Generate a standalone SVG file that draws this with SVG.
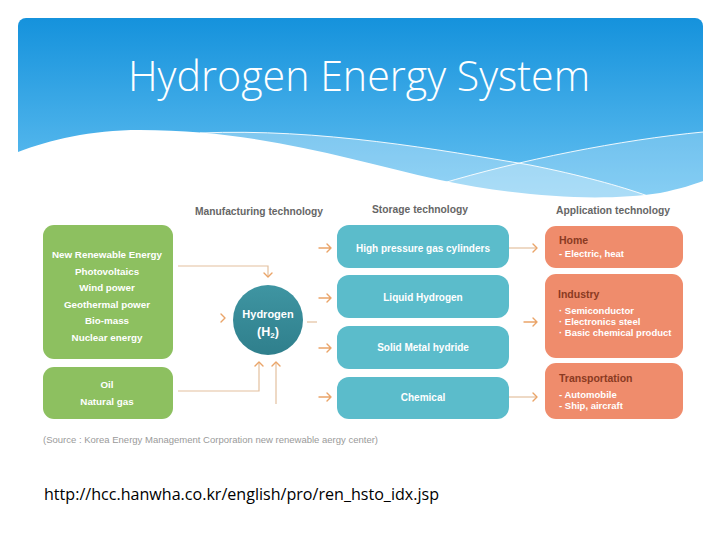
<svg xmlns="http://www.w3.org/2000/svg" width="720" height="540" viewBox="0 0 720 540">
  <defs>
    <linearGradient id="sky" x1="0" y1="0" x2="0" y2="1">
      <stop offset="0" stop-color="#1592dc"/>
      <stop offset="1" stop-color="#6cc5f3"/>
    </linearGradient>
    <linearGradient id="h2" x1="0" y1="0" x2="0" y2="1">
      <stop offset="0" stop-color="#3f95a2"/>
      <stop offset="1" stop-color="#2f7f8c"/>
    </linearGradient>
  </defs>
  <style>
    .hdr { font-family: "Liberation Sans", Arial, sans-serif; font-size: 10px; font-weight: bold; fill: #666666; text-anchor: middle; }
    .wt { font-family: "Liberation Sans", Arial, sans-serif; font-size: 9.8px; font-weight: bold; fill: #ffffff; text-anchor: middle; }
    .st { font-family: "Liberation Sans", Arial, sans-serif; font-size: 10px; font-weight: bold; fill: #ffffff; text-anchor: middle; }
    .apt { font-family: "Liberation Sans", Arial, sans-serif; font-size: 10.5px; font-weight: bold; fill: #8a3a22; }
    .api { font-family: "Liberation Sans", Arial, sans-serif; font-size: 9.5px; font-weight: bold; fill: #ffffff; }
    .green { fill: #8dc060; }
    .teal { fill: #5bbccb; }
    .salmon { fill: #ef8c6c; }
    .line { fill: none; stroke: #e3c09e; stroke-width: 1.2; }
    .arr { fill: none; stroke: #eaa468; stroke-width: 1.4; stroke-linecap: round; stroke-linejoin: round; }
  </style>

  <!-- header banner -->
  <g id="banner">
    <rect x="18" y="18" width="685" height="195" rx="8" fill="url(#sky)"/>
    <path d="M200,133 C320,128 440,150 530,165 C580,175 620,186 648,196 L703,215 L200,215 Z" fill="#ffffff" fill-opacity="0.3"/>
    <path d="M440,184 C520,160 620,140 703,132 L703,215 L440,215 Z" fill="#ffffff" fill-opacity="0.22"/>
    <path d="M200,133 C320,128 440,150 530,165 C580,175 620,186 648,196" fill="none" stroke="#ffffff" stroke-width="0.9"/>
    <path d="M440,184 C520,160 620,140 703,132" fill="none" stroke="#ffffff" stroke-width="0.9"/>
    <path d="M18,152 C50,140 90,130 140,130 C260,130 350,160 440,180 C520,197 600,202 660,193 C680,189 695,184 703,181 L703,220 L18,220 Z" fill="#ffffff"/>
    <text x="359" y="91" font-family="'Open Sans', 'Liberation Sans', sans-serif" font-size="42" font-weight="300" fill="#ffffff" text-anchor="middle" textLength="462" lengthAdjust="spacingAndGlyphs">Hydrogen Energy System</text>
  </g>

  <!-- column headers -->
  <g id="headers">
    <text class="hdr" x="259" y="215" textLength="128" lengthAdjust="spacingAndGlyphs">Manufacturing technology</text>
    <text class="hdr" x="420" y="213" textLength="96" lengthAdjust="spacingAndGlyphs">Storage technology</text>
    <text class="hdr" x="613" y="214" textLength="114" lengthAdjust="spacingAndGlyphs">Application technology</text>
  </g>

  <!-- connectors -->
  <g id="connectors">
    <path class="line" d="M178,266 H268 V277"/>
    <path class="arr" d="M264,273 L268,277 L272,273"/>
    <path class="arr" d="M221,314 L225,318 L221,322"/>
    <path class="line" d="M178,391 H259 V362"/>
    <path class="arr" d="M255,366 L259,362 L263,366"/>
    <path class="line" d="M276,404 V362"/>
    <path class="arr" d="M272,366 L276,362 L280,366"/>
    <path class="line" d="M307,322 H317"/>
    <path class="arr" d="M319,248 H331 M327,244 L331,248 L327,252"/>
    <path class="arr" d="M319,298 H331 M327,294 L331,298 L327,302"/>
    <path class="arr" d="M319,348 H331 M327,344 L331,348 L327,352"/>
    <path class="arr" d="M319,397 H331 M327,393 L331,397 L327,401"/>
    <path class="line" d="M509,248 H537"/>
    <path class="arr" d="M533,244 L537,248 L533,252"/>
    <path class="arr" d="M524,322 H537 M533,318 L537,322 L533,326"/>
    <path class="line" d="M509,397 H537"/>
    <path class="arr" d="M533,393 L537,397 L533,401"/>
  </g>

  <!-- manufacturing sources -->
  <g id="renewable">
    <rect class="green" x="43" y="225" width="130" height="134" rx="11"/>
    <text class="wt" x="107" y="258">New Renewable Energy</text>
    <text class="wt" x="107" y="274.5">Photovoltaics</text>
    <text class="wt" x="107" y="291">Wind power</text>
    <text class="wt" x="107" y="307.5">Geothermal power</text>
    <text class="wt" x="107" y="324">Bio-mass</text>
    <text class="wt" x="107" y="340.5">Nuclear energy</text>
  </g>
  <g id="fossil">
    <rect class="green" x="43" y="367" width="130" height="52" rx="11"/>
    <text class="wt" x="107" y="388">Oil</text>
    <text class="wt" x="107" y="404.5">Natural gas</text>
  </g>

  <!-- hydrogen -->
  <g id="hydrogen">
    <circle cx="268" cy="320" r="35" fill="url(#h2)"/>
    <text x="268" y="318" font-family="'Liberation Sans', Arial, sans-serif" font-size="11" font-weight="bold" fill="#ffffff" text-anchor="middle">Hydrogen</text>
    <text x="268" y="336" font-family="'Liberation Sans', Arial, sans-serif" font-size="12.5" font-weight="bold" fill="#ffffff" text-anchor="middle">(H<tspan font-size="8" dy="2">2</tspan><tspan dy="-2">)</tspan></text>
  </g>

  <!-- storage -->
  <g id="storage-gas">
    <rect class="teal" x="337" y="225" width="172" height="43" rx="12"/>
    <text class="st" x="423" y="251.5">High pressure gas cylinders</text>
  </g>
  <g id="storage-liquid">
    <rect class="teal" x="337" y="275" width="172" height="43" rx="12"/>
    <text class="st" x="423" y="301">Liquid Hydrogen</text>
  </g>
  <g id="storage-solid">
    <rect class="teal" x="337" y="326" width="172" height="43" rx="12"/>
    <text class="st" x="423" y="351">Solid Metal hydride</text>
  </g>
  <g id="storage-chemical">
    <rect class="teal" x="337" y="377" width="172" height="42" rx="12"/>
    <text class="st" x="423" y="400.5">Chemical</text>
  </g>

  <!-- applications -->
  <g id="app-home">
    <rect class="salmon" x="545" y="226" width="138" height="42" rx="11"/>
    <text class="apt" x="559" y="243.5">Home</text>
    <text class="api" x="559" y="256.5">- Electric, heat</text>
  </g>
  <g id="app-industry">
    <rect class="salmon" x="545" y="274" width="138" height="84" rx="11"/>
    <text class="apt" x="558" y="298">Industry</text>
    <text class="api" x="559" y="313.5">· Semiconductor</text>
    <text class="api" x="559" y="324.5">· Electronics steel</text>
    <text class="api" x="559" y="335.5">· Basic chemical product</text>
  </g>
  <g id="app-transport">
    <rect class="salmon" x="545" y="363" width="138" height="56" rx="11"/>
    <text class="apt" x="559" y="382">Transportation</text>
    <text class="api" x="559" y="397.5">- Automobile</text>
    <text class="api" x="559" y="408.5">- Ship, aircraft</text>
  </g>

  <!-- source and link -->
  <g id="captions">
    <text x="43" y="443" font-family="'Liberation Sans', Arial, sans-serif" font-size="9" fill="#9a9a9a" textLength="335" lengthAdjust="spacingAndGlyphs">(Source : Korea Energy Management Corporation new renewable aergy center)</text>
    <text x="44" y="500" font-family="'Open Sans', 'Liberation Sans', sans-serif" font-size="16.5" fill="#000000" textLength="395" lengthAdjust="spacingAndGlyphs">http://hcc.hanwha.co.kr/english/pro/ren_hsto_idx.jsp</text>
  </g>
</svg>
